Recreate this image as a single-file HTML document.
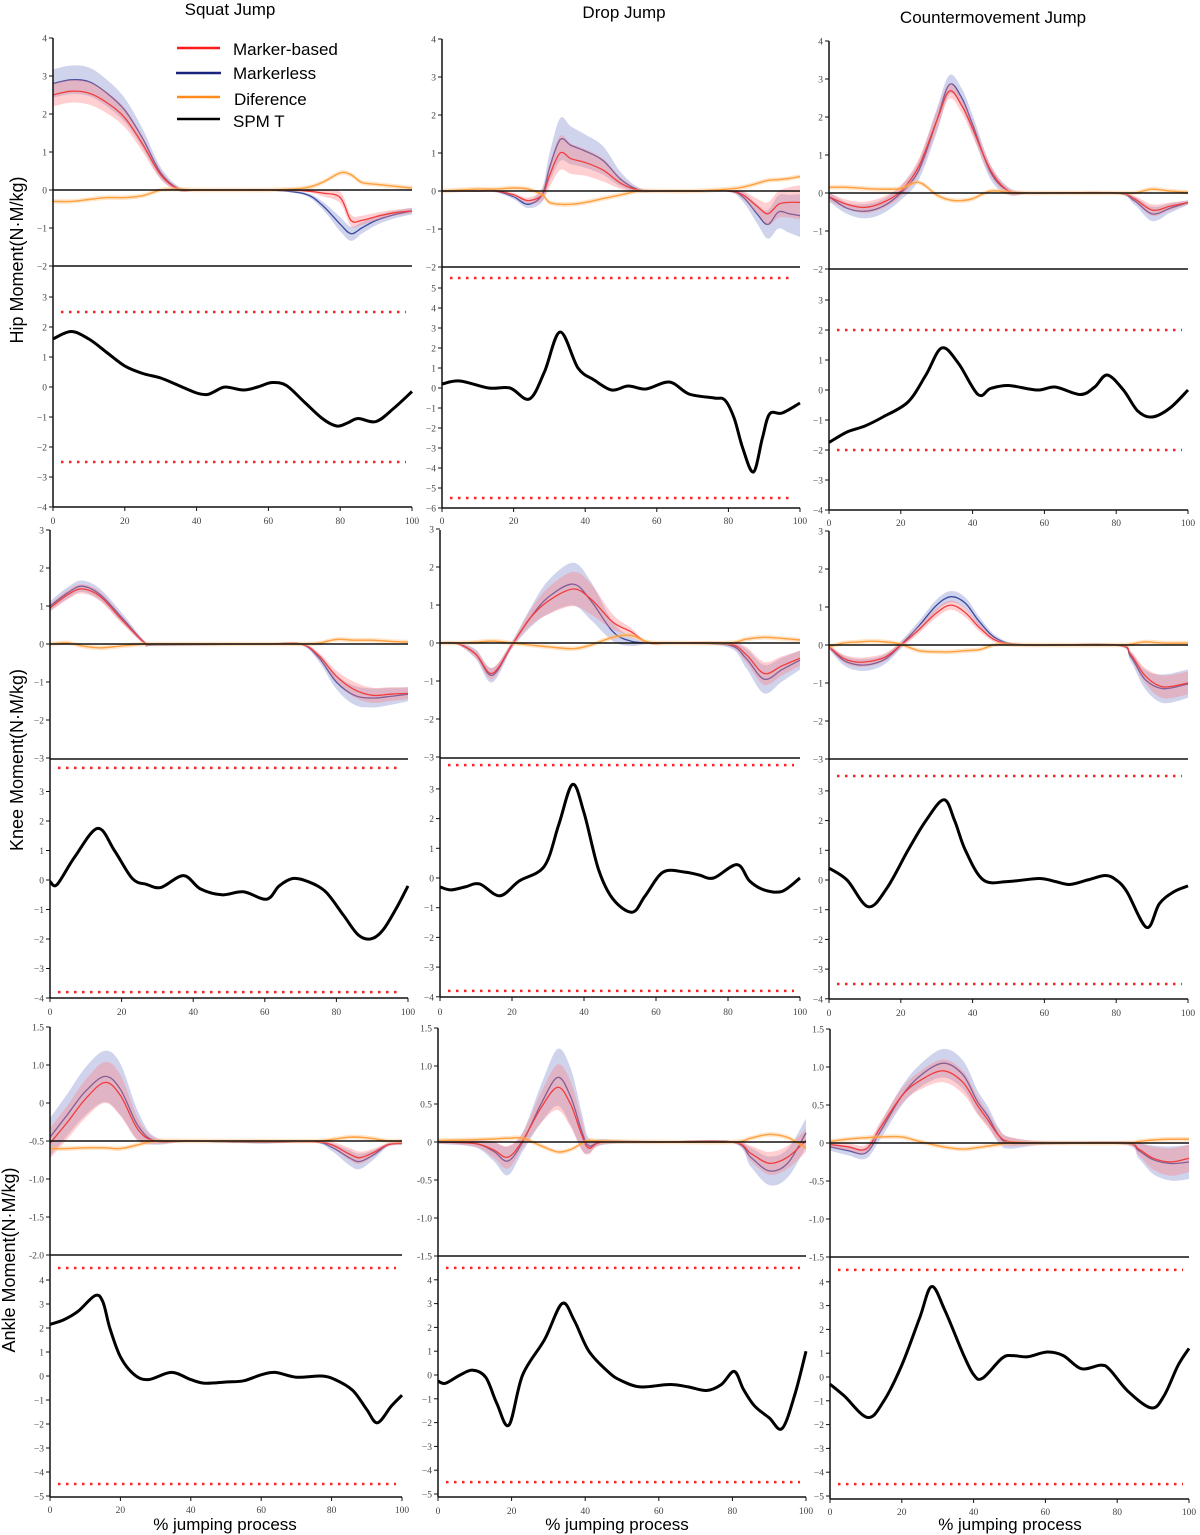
<!DOCTYPE html>
<html><head><meta charset="utf-8">
<style>
html,body{margin:0;padding:0;background:#fff;}
svg{display:block;font-family:"Liberation Sans",sans-serif;}
.tk{font-family:"Liberation Serif",serif;font-size:9.5px;fill:#444;}
</style></head>
<body>
<svg id="fig" width="1200" height="1535" viewBox="0 0 1200 1535" xmlns="http://www.w3.org/2000/svg">
<text x="230" y="15" font-size="17" text-anchor="middle">Squat Jump</text>
<text x="624" y="18" font-size="17" text-anchor="middle">Drop Jump</text>
<text x="993" y="23" font-size="17" text-anchor="middle">Countermovement Jump</text>
<text transform="translate(23,260) rotate(-90)" font-size="18" text-anchor="middle">Hip Moment(N·M/kg)</text>
<text transform="translate(23,760) rotate(-90)" font-size="18" text-anchor="middle">Knee Moment(N·M/kg)</text>
<text transform="translate(15,1260) rotate(-90)" font-size="18" text-anchor="middle">Ankle Moment(N·M/kg)</text>
<text x="225" y="1530" font-size="17" text-anchor="middle">% jumping process</text>
<text x="617" y="1530" font-size="17" text-anchor="middle">% jumping process</text>
<text x="1010" y="1530" font-size="17" text-anchor="middle">% jumping process</text>
<g id="plots"></g>
<g>
<line x1="177" y1="48" x2="220" y2="48" stroke="#ff1a1a" stroke-width="2.5"/>
<text x="233" y="55" font-size="17">Marker-based</text>
<line x1="176" y1="73" x2="221" y2="73" stroke="#1a237e" stroke-width="2.5"/>
<text x="233" y="79" font-size="17">Markerless</text>
<line x1="177" y1="97" x2="220" y2="97" stroke="#ff8c1a" stroke-width="2.5"/>
<text x="234" y="105" font-size="17">Diference</text>
<line x1="177" y1="119" x2="220" y2="119" stroke="#000" stroke-width="2.5"/>
<text x="233" y="127" font-size="17">SPM T</text>
</g>
</svg>
<script>
// ---------- DATA (x = % jumping process) ----------
// Hip – Squat Jump
const hipSJ_tx=[0,5,10,15,20,25,30,35,40,50,60,70,75,80,83,86,90,95,100];
const hipSJ_mb=[2.5,2.6,2.55,2.3,1.9,1.2,0.4,0.02,0,0,0,-0.02,-0.08,-0.2,-0.8,-0.8,-0.7,-0.6,-0.55];
const hipSJ_ml=[2.8,2.9,2.85,2.55,2.1,1.35,0.45,0.03,0,0,0,-0.1,-0.4,-0.9,-1.15,-1.0,-0.8,-0.65,-0.55];
const hipSJ_sd=[0.3,0.3,0.3,0.28,0.25,0.2,0.12,0.05,0.02,0.01,0.01,0.03,0.08,0.15,0.15,0.12,0.1,0.08,0.07];
const hipSJ_df=[-0.3,-0.3,-0.25,-0.2,-0.2,-0.15,0,0.02,0,0,0,0.05,0.2,0.45,0.4,0.2,0.15,0.1,0.05];
const hipSJ_sx=[0,5,10,15,20,25,30,35,40,43,45,48,53,57,61,65,70,75,79,82,85,90,95,100];
const hipSJ_st=[1.6,1.85,1.6,1.15,0.7,0.45,0.3,0.05,-0.2,-0.25,-0.15,0,-0.1,0,0.15,0.05,-0.5,-1.05,-1.3,-1.2,-1.05,-1.15,-0.7,-0.15];
const hipSJ_thr=[2.5];
// Hip – Drop Jump
const hipDJ_tx=[0,10,15,20,24,28,30,33,36,40,45,50,55,60,70,80,84,88,91,94,97,100];
const hipDJ_mb=[0,0,0,-0.1,-0.25,-0.1,0.4,1.0,0.85,0.75,0.55,0.2,0.02,0,0,0,-0.1,-0.4,-0.6,-0.35,-0.3,-0.3];
const hipDJ_ml=[0,0,0,-0.15,-0.35,-0.1,0.6,1.35,1.2,1.05,0.8,0.3,0.03,0,0,0,-0.15,-0.6,-0.88,-0.55,-0.6,-0.65];
const hipDJ_sd=[0.02,0.02,0.03,0.05,0.08,0.15,0.3,0.45,0.4,0.35,0.3,0.15,0.05,0.02,0.02,0.02,0.1,0.2,0.3,0.35,0.4,0.45];
const hipDJ_df=[0,0.05,0.05,0.08,0.05,-0.1,-0.3,-0.35,-0.35,-0.3,-0.2,-0.1,0,0,0,0.05,0.1,0.2,0.28,0.3,0.33,0.38];
const hipDJ_sx=[0,5,13,19,24.4,28.6,33,38,42.5,47.4,52,57,63.5,69,76,79,81.6,84,87,89.5,91.5,95,100];
const hipDJ_st=[0.2,0.35,0,0,-0.55,0.8,2.8,1.0,0.4,-0.1,0.1,-0.05,0.3,-0.3,-0.5,-0.6,-1.5,-3.0,-4.2,-2.5,-1.3,-1.25,-0.75];
const hipDJ_thr=[5.5];
// Hip – CMJ
const hipCMJ_tx=[0,5,10,15,20,25,30,33.5,37,40,45,50,55,60,80,85,90,95,100];
const hipCMJ_mb=[-0.1,-0.3,-0.38,-0.25,0.05,0.7,1.9,2.68,2.3,1.7,0.6,0.05,0,0,0,-0.15,-0.45,-0.35,-0.25];
const hipCMJ_ml=[-0.1,-0.4,-0.48,-0.35,0,0.6,1.9,2.85,2.5,1.8,0.55,0.05,0,0,0,-0.2,-0.55,-0.4,-0.25];
const hipCMJ_sd=[0.1,0.12,0.15,0.15,0.15,0.2,0.25,0.2,0.2,0.2,0.15,0.08,0.02,0.01,0.02,0.08,0.15,0.1,0.05];
const hipCMJ_df=[0.15,0.15,0.12,0.1,0.12,0.28,-0.05,-0.18,-0.2,-0.15,0.05,0.02,0,0,0,0,0.1,0.05,0.02];
const hipCMJ_sx=[0,5,10,15,22,27,31.4,36,41.5,45,50,58,63,70,74,77.5,82,86,90,95,100];
const hipCMJ_st=[-1.75,-1.4,-1.2,-0.9,-0.4,0.5,1.4,0.9,-0.15,0.05,0.15,0,0.1,-0.15,0.1,0.5,0,-0.7,-0.9,-0.6,0];
const hipCMJ_thr=[2];
// Knee – Squat Jump
const kneeSJ_tx=[0,5,9,14,20,26.6,30,60,70,75,80,85,90,95,100];
const kneeSJ_mb=[0.95,1.3,1.45,1.25,0.65,0.02,0,0,0,-0.3,-0.85,-1.2,-1.35,-1.32,-1.3];
const kneeSJ_ml=[1.0,1.35,1.52,1.3,0.7,0.02,-0.02,0,0,-0.35,-1.0,-1.35,-1.42,-1.38,-1.32];
const kneeSJ_sd=[0.1,0.12,0.12,0.12,0.1,0.04,0.02,0.01,0.02,0.08,0.15,0.2,0.2,0.18,0.15];
const kneeSJ_df=[0,0.03,-0.05,-0.1,-0.05,0,0,0,0,0.02,0.12,0.1,0.1,0.07,0.05];
const kneeSJ_sx=[0,2,7,13.3,18,23,27,31,37.3,42,48,54,60.5,64,67.8,72,77,82,86,89.5,93,97,100];
const kneeSJ_st=[-0.05,-0.15,0.8,1.75,1.0,0.05,-0.15,-0.25,0.15,-0.3,-0.5,-0.4,-0.65,-0.2,0.05,-0.05,-0.4,-1.2,-1.85,-2.0,-1.7,-0.9,-0.2];
const kneeSJ_thr=[3.8];
// Knee – Drop Jump
const kneeDJ_tx=[0,5,10,14.5,20,25,30,37,42,48,53,58,65,80,85,90,95,100];
const kneeDJ_mb=[0,-0.02,-0.3,-0.8,-0.05,0.65,1.1,1.42,1.15,0.55,0.3,0,0,-0.02,-0.3,-0.8,-0.6,-0.4];
const kneeDJ_ml=[0,-0.02,-0.3,-0.85,-0.05,0.65,1.2,1.55,1.1,0.3,0.05,0,0,-0.05,-0.4,-0.95,-0.7,-0.45];
const kneeDJ_sd=[0.02,0.03,0.1,0.15,0.08,0.2,0.35,0.45,0.4,0.2,0.1,0.02,0.02,0.05,0.2,0.3,0.25,0.2];
const kneeDJ_df=[0,0,0.02,0.05,0,-0.05,-0.1,-0.15,-0.05,0.15,0.2,0.02,0,0,0.1,0.15,0.12,0.08];
const kneeDJ_sx=[0,3,7,11,16.6,22,29,33,36.8,40,44,48,53.4,57,62,68,72,76,82.5,86,90,95,100];
const kneeDJ_st=[-0.3,-0.4,-0.3,-0.2,-0.6,-0.1,0.4,1.8,3.15,2.2,0.3,-0.7,-1.15,-0.6,0.2,0.2,0.1,0,0.45,-0.1,-0.4,-0.45,0];
const kneeDJ_thr=[3.8];
// Knee – CMJ
const kneeCMJ_tx=[0,4,8,12,16,20,25,30,34,38,42,47,55,80,84,88,93,100];
const kneeCMJ_mb=[-0.05,-0.35,-0.45,-0.42,-0.3,0,0.4,0.85,1.05,0.85,0.45,0.1,0,0,-0.25,-0.8,-1.1,-1.0];
const kneeCMJ_ml=[-0.05,-0.4,-0.52,-0.5,-0.35,0,0.5,1.05,1.27,1.1,0.6,0.15,0,0,-0.3,-0.9,-1.15,-1.02];
const kneeCMJ_sd=[0.05,0.1,0.12,0.12,0.1,0.08,0.1,0.12,0.12,0.12,0.1,0.05,0.02,0.02,0.1,0.2,0.3,0.3];
const kneeCMJ_df=[-0.05,0.05,0.08,0.1,0.08,0.02,-0.15,-0.18,-0.18,-0.15,-0.12,0.02,0,0,0.02,0.08,0.05,0.05];
const kneeCMJ_sx=[0,5,10.9,16,22,27,32,35,38,43,50,58.5,63,67,72,77,80,83,88.5,92,96,100];
const kneeCMJ_st=[0.4,0,-0.9,-0.3,1.0,2.0,2.7,2.0,1.0,0,-0.05,0.05,-0.05,-0.15,0,0.15,0,-0.4,-1.6,-0.8,-0.4,-0.2];
const kneeCMJ_thr=[3.5];
// Ankle – Squat Jump (values relative to the zero reference line)
const ankSJ_tx=[0,5,10,15.6,20,25,30,40,60,75,80,85,88,92,96,100];
const ankSJ_mb=[-0.03,0.25,0.55,0.77,0.6,0.15,0,0,-0.01,-0.01,-0.05,-0.17,-0.22,-0.15,-0.05,-0.03];
const ankSJ_ml=[0.05,0.35,0.65,0.85,0.68,0.2,0,0,-0.02,-0.01,-0.08,-0.22,-0.27,-0.18,-0.05,-0.03];
const ankSJ_sd=[0.2,0.22,0.25,0.27,0.27,0.15,0.04,0.01,0.01,0.01,0.04,0.08,0.08,0.05,0.02,0.02];
const ankSJ_df=[-0.1,-0.1,-0.09,-0.09,-0.1,-0.05,0,0,0,0,0.02,0.05,0.05,0.03,0,0];
const ankSJ_sx=[0,4,8,12.8,15,17,20,24,28,34.5,40,44,50,55,60,64,70,77,81,86,90,93,97,100];
const ankSJ_st=[2.15,2.35,2.7,3.35,3.1,2.0,0.8,0.05,-0.15,0.15,-0.15,-0.3,-0.25,-0.2,0.05,0.15,-0.05,0,-0.15,-0.6,-1.4,-1.95,-1.25,-0.8];
const ankSJ_thr=[4.5];
// Ankle – Drop Jump
const ankDJ_tx=[0,10,15,19,23,28,32.5,36,39,41,45,60,80,85,90,95,100];
const ankDJ_mb=[0,-0.02,-0.1,-0.2,0.02,0.45,0.72,0.5,0.1,-0.08,0,0,0,-0.15,-0.28,-0.2,0.02];
const ankDJ_ml=[0,-0.02,-0.12,-0.25,0,0.5,0.85,0.6,0.15,-0.05,0,0,0,-0.2,-0.38,-0.28,0.12];
const ankDJ_sd=[0.02,0.04,0.1,0.15,0.1,0.2,0.3,0.3,0.2,0.08,0.03,0.01,0.01,0.1,0.15,0.15,0.15];
const ankDJ_df=[0.02,0.03,0.04,0.05,0.05,-0.05,-0.13,-0.1,-0.02,0.02,0.01,0,0,0.05,0.1,0.06,-0.08];
const ankDJ_sx=[0,2,6,9.5,13,16,19.3,23,29,33.7,37,41,46.5,50,55,63,68,73,77,80.5,83,86,90,93.5,97,100];
const ankDJ_st=[-0.25,-0.35,0,0.2,-0.1,-1.2,-2.1,0,1.5,3.0,2.3,1.0,0.1,-0.25,-0.5,-0.4,-0.5,-0.65,-0.4,0.15,-0.6,-1.3,-1.8,-2.25,-0.8,1.0];
const ankDJ_thr=[4.5];
// Ankle – CMJ
const ankCMJ_tx=[0,5,10,14,20,25,31.5,37,41,44,47,50,60,82,86,90,95,100];
const ankCMJ_mb=[-0.02,-0.05,-0.08,0.2,0.62,0.82,0.95,0.8,0.5,0.3,0.1,0.02,0,0,-0.08,-0.2,-0.25,-0.2];
const ankCMJ_ml=[-0.05,-0.1,-0.13,0.15,0.62,0.88,1.05,0.9,0.55,0.35,0.1,0,0,0,-0.1,-0.22,-0.27,-0.25];
const ankCMJ_sd=[0.04,0.05,0.06,0.08,0.1,0.12,0.15,0.15,0.12,0.1,0.08,0.06,0.02,0.02,0.08,0.15,0.18,0.18];
const ankCMJ_df=[0.02,0.05,0.07,0.08,0.08,0.02,-0.05,-0.08,-0.06,-0.04,-0.02,0,0,0,0.02,0.04,0.05,0.05];
const ankCMJ_sx=[0,4,10.5,15,20,25,28.3,32,37,40,42.5,48,51,55,60.5,65,70,75.5,78,83,89.5,93,97,100];
const ankCMJ_st=[-0.3,-0.8,-1.7,-1.0,0.5,2.5,3.8,2.8,1.0,0.1,-0.05,0.8,0.9,0.85,1.05,0.9,0.35,0.5,0.3,-0.6,-1.3,-0.8,0.5,1.2];
const ankCMJ_thr=[4.5];

// tick labels
const xTicks=[0,20,40,60,80,100];
const hipTopTicks=[4,3,2,1,0,-1,-2];
const kneeTopTicks=[3,2,1,0,-1,-2,-3];
const ankTopTickVals=[1.5,1,0.5,0,-0.5,-1,-1.5];
const ankTopLabelsSJ=["1.5","1.0","0","-0.5","-1.0","-1.5","-2.0"];
const ankTopLabelsOther=["1.5","1.0","0.5","0","-0.5","-1.0","-1.5"];
const spmTicks34=[3,2,1,0,-1,-2,-3,-4];
const spmTicks56=[5,4,3,2,1,0,-1,-2,-3,-4,-5,-6];
const spmTicks45=[4,3,2,1,0,-1,-2,-3,-4,-5];

// ---------- LAYOUT (pixel geometry) ----------
const panels=[
 {id:'hip-squat',tx:hipSJ_tx,mb:hipSJ_mb,ml:hipSJ_ml,sd:hipSJ_sd,df:hipSJ_df,sx:hipSJ_sx,st:hipSJ_st,thr:hipSJ_thr,
  x0:53,x1:412,top:38,tz:190,tu:38,tb:266,tt:hipTopTicks,tl:null,sz:387,su:30,sb:507,stk:spmTicks34,xl:521},
 {id:'hip-drop',tx:hipDJ_tx,mb:hipDJ_mb,ml:hipDJ_ml,sd:hipDJ_sd,df:hipDJ_df,sx:hipDJ_sx,st:hipDJ_st,thr:hipDJ_thr,
  x0:442,x1:800,top:39,tz:191,tu:38,tb:267,tt:hipTopTicks,tl:null,sz:388,su:20,sb:508,stk:spmTicks56,xl:521},
 {id:'hip-cmj',tx:hipCMJ_tx,mb:hipCMJ_mb,ml:hipCMJ_ml,sd:hipCMJ_sd,df:hipCMJ_df,sx:hipCMJ_sx,st:hipCMJ_st,thr:hipCMJ_thr,
  x0:829,x1:1188,top:41,tz:193,tu:38,tb:269,tt:hipTopTicks,tl:null,sz:390,su:30,sb:510,stk:spmTicks34,xl:523},
 {id:'knee-squat',tx:kneeSJ_tx,mb:kneeSJ_mb,ml:kneeSJ_ml,sd:kneeSJ_sd,df:kneeSJ_df,sx:kneeSJ_sx,st:kneeSJ_st,thr:kneeSJ_thr,
  x0:50,x1:408,top:530,tz:644,tu:38,tb:759,tt:kneeTopTicks,tl:null,sz:880,su:29.5,sb:998,stk:spmTicks34,xl:1012},
 {id:'knee-drop',tx:kneeDJ_tx,mb:kneeDJ_mb,ml:kneeDJ_ml,sd:kneeDJ_sd,df:kneeDJ_df,sx:kneeDJ_sx,st:kneeDJ_st,thr:kneeDJ_thr,
  x0:440,x1:800,top:530,tz:643,tu:38,tb:758,tt:kneeTopTicks,tl:null,sz:878,su:29.7,sb:997,stk:spmTicks34,xl:1012},
 {id:'knee-cmj',tx:kneeCMJ_tx,mb:kneeCMJ_mb,ml:kneeCMJ_ml,sd:kneeCMJ_sd,df:kneeCMJ_df,sx:kneeCMJ_sx,st:kneeCMJ_st,thr:kneeCMJ_thr,
  x0:829,x1:1188,top:531,tz:645,tu:38,tb:759,tt:kneeTopTicks,tl:null,sz:880,su:29.7,sb:999,stk:spmTicks34,xl:1013},
 {id:'ankle-squat',tx:ankSJ_tx,mb:ankSJ_mb,ml:ankSJ_ml,sd:ankSJ_sd,df:ankSJ_df,sx:ankSJ_sx,st:ankSJ_st,thr:ankSJ_thr,
  x0:50,x1:402,top:1027,tz:1141,tu:76,tb:1255,tt:ankTopTickVals,tl:ankTopLabelsSJ,sz:1376,su:24,sb:1497,stk:spmTicks45,xl:1510},
 {id:'ankle-drop',tx:ankDJ_tx,mb:ankDJ_mb,ml:ankDJ_ml,sd:ankDJ_sd,df:ankDJ_df,sx:ankDJ_sx,st:ankDJ_st,thr:ankDJ_thr,
  x0:438,x1:806,top:1028,tz:1142,tu:76,tb:1256,tt:ankTopTickVals,tl:ankTopLabelsOther,sz:1375,su:23.8,sb:1497,stk:spmTicks45,xl:1511},
 {id:'ankle-cmj',tx:ankCMJ_tx,mb:ankCMJ_mb,ml:ankCMJ_ml,sd:ankCMJ_sd,df:ankCMJ_df,sx:ankCMJ_sx,st:ankCMJ_st,thr:ankCMJ_thr,
  x0:830,x1:1189,top:1029,tz:1143,tu:76,tb:1257,tt:ankTopTickVals,tl:ankTopLabelsOther,sz:1377,su:23.8,sb:1499,stk:spmTicks45,xl:1512}
];

const NS='http://www.w3.org/2000/svg';
const root=document.getElementById('plots');
function mk(tag,attrs,parent){const e=document.createElementNS(NS,tag);for(const k in attrs)e.setAttribute(k,attrs[k]);(parent||root).appendChild(e);return e;}
function smooth(pts,move){
 let d=move?('M'+pts[0][0].toFixed(1)+','+pts[0][1].toFixed(1)):('L'+pts[0][0].toFixed(1)+','+pts[0][1].toFixed(1));
 for(let i=0;i<pts.length-1;i++){
  const p0=pts[Math.max(0,i-1)],p1=pts[i],p2=pts[i+1],p3=pts[Math.min(pts.length-1,i+2)];
  const c1=[p1[0]+(p2[0]-p0[0])/6,p1[1]+(p2[1]-p0[1])/6];
  const c2=[p2[0]-(p3[0]-p1[0])/6,p2[1]-(p3[1]-p1[1])/6];
  d+='C'+c1[0].toFixed(1)+','+c1[1].toFixed(1)+' '+c2[0].toFixed(1)+','+c2[1].toFixed(1)+' '+p2[0].toFixed(1)+','+p2[1].toFixed(1);
 }
 return d;
}

panels.forEach(p=>{
 const g=mk('g',{});
 
 
 const X=v=>p.x0+(p.x1-p.x0)*v/100;
 const YT=v=>p.tz-v*p.tu;
 const YS=v=>p.sz-v*p.su;
 const line=(xs,ys,Y)=>smooth(xs.map((x,i)=>[X(x),Y(ys[i])]),true);
 const band=(xs,ys,sd,Y,w)=>{
  const up=xs.map((x,i)=>[X(x),Y(ys[i]+(sd?sd[i]:w))]);
  const lo=xs.map((x,i)=>[X(x),Y(ys[i]-(sd?sd[i]:w))]).reverse();
  return smooth(up,true)+smooth(lo,false)+'Z';
 };
 // bands & lines
 let e;
 e=mk('path',{d:band(p.tx,p.ml,p.sd.map(s=>s*1.25),YT),fill:'rgba(130,140,205,0.38)',stroke:'none'},g);
 
 
 e=mk('path',{d:line(p.tx,p.ml,YT),fill:'none',stroke:'#3949a0','stroke-width':1.3},g);
 
 
 e=mk('path',{d:band(p.tx,p.mb,p.sd,YT),fill:'rgba(255,130,135,0.38)',stroke:'none'},g);
 
 
 e=mk('path',{d:line(p.tx,p.mb,YT),fill:'none',stroke:'#f23c3c','stroke-width':1.3},g);
 
 
 e=mk('path',{d:band(p.tx,p.df,null,YT,0.06*38/p.tu*1.0),fill:'rgba(255,190,120,0.4)',stroke:'none'},g);
 
 
 e=mk('path',{d:line(p.tx,p.df,YT),fill:'none',stroke:'#ffa040','stroke-width':1.4},g);
 
 
 // zero line and boundary
 e=mk('line',{x1:p.x0,y1:YT(0),x2:p.x1,y2:YT(0),stroke:'#111','stroke-width':1.4},g);
 
 
 e=mk('line',{x1:p.x0,y1:p.tb,x2:p.x1,y2:p.tb,stroke:'#111','stroke-width':1.4},g);
 
 
 // spine
 e=mk('line',{x1:p.x0,y1:p.top,x2:p.x0,y2:p.sb,stroke:'#111','stroke-width':1.5},g);
 
 
 e=mk('line',{x1:p.x0,y1:p.sb,x2:p.x1,y2:p.sb,stroke:'#111','stroke-width':1.5},g);
 
 
 // top ticks
 p.tt.forEach((v,i)=>{
  const y=YT(v);
  mk('line',{x1:p.x0-4,y1:y,x2:p.x0,y2:y,stroke:'#111','stroke-width':1},g);
  const t=mk('text',{x:p.x0-6,y:y+3.5,'text-anchor':'end',class:'tk'},g);
  
  
  t.textContent=p.tl?p.tl[i]:String(v).replace('-','\u2212');
 });
 // spm ticks
 p.stk.forEach(v=>{
  const y=YS(v);
  if(y<p.tb+4)return;
  mk('line',{x1:p.x0-4,y1:y,x2:p.x0,y2:y,stroke:'#111','stroke-width':1},g);
  const t=mk('text',{x:p.x0-6,y:y+3.5,'text-anchor':'end',class:'tk'},g);
  
  
  t.textContent=String(v).replace('-','\u2212');
 });
 // x ticks
 xTicks.forEach(v=>{
  const x=X(v);
  mk('line',{x1:x,y1:p.sb,x2:x,y2:p.sb+4,stroke:'#111','stroke-width':1},g);
  const t=mk('text',{x:x,y:p.xl+3,'text-anchor':'middle',class:'tk'},g);
  
  
  t.textContent=String(v);
 });
 // thresholds
 [p.thr[0],-p.thr[0]].forEach(v=>{
  const th=mk('line',{x1:p.x0+8,y1:YS(v),x2:p.x1-6,y2:YS(v),stroke:'#ff2020','stroke-width':2.5,'stroke-dasharray':'2.5 5.5'},g);
  
  
 });
 // SPM T curve
 e=mk('path',{d:line(p.sx,p.st,YS),fill:'none',stroke:'#000','stroke-width':3,'stroke-linejoin':'round'},g);
 
 
});
</script>
</body></html>
